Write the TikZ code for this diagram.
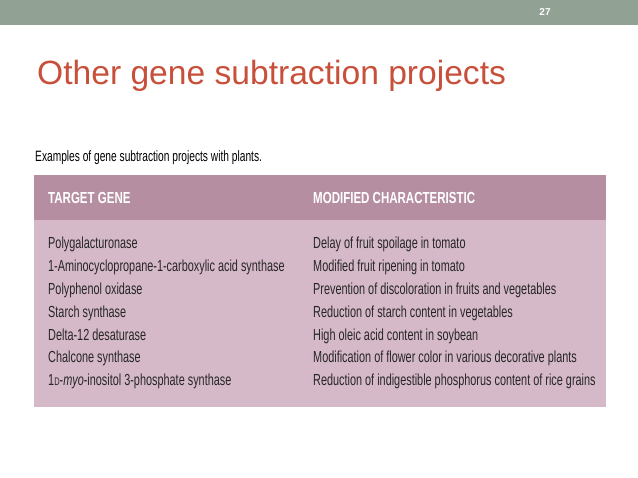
\documentclass[tikz,border=0pt]{standalone}
\usepackage{fontspec}
\setmainfont{Liberation Sans}
\newfontfamily\condfont[FakeStretch=0.68]{Liberation Sans}
\newfontfamily\headfont[FakeStretch=0.72]{Liberation Sans}
\usetikzlibrary{positioning}
\definecolor{barcol}{HTML}{91A295}
\definecolor{titlecol}{HTML}{C8503A}
\definecolor{headcol}{HTML}{B68EA1}
\definecolor{bodycol}{HTML}{D6B9C8}
\tikzset{
  cell/.style={anchor=base west,inner sep=0pt,font=\condfont\fontsize{16}{18}\selectfont,text=black!85},
  headcell/.style={anchor=base west,inner sep=0pt,font=\headfont\bfseries\fontsize{16}{18}\selectfont,text=white}
}
\begin{document}
\begin{tikzpicture}[x=1pt,y=-1pt]
\useasboundingbox (0,0) rectangle (638,478);
% top band
\fill[barcol] (0,0) rectangle (638,25);
\node[font=\bfseries\fontsize{10}{12}\selectfont,text=white] (pagenum) at (545,12) {27};
% title
\node[anchor=base west,inner sep=0pt,text=titlecol,font=\fontsize{33.6}{36}\selectfont] (title) at (37,85) {Other gene subtraction projects};
\node[anchor=base west,inner sep=0pt,font=\condfont\fontsize{15}{17}\selectfont] (caption) at (35,162) {Examples of gene subtraction projects with plants.};
% table
\fill[headcol] (34,175) rectangle (606,220);
\fill[bodycol] (34,220) rectangle (606,407);
\node[headcell] (hgene) at (48,204) {TARGET GENE};
\node[headcell] (hchar) at (313,204) {MODIFIED CHARACTERISTIC};
\foreach \i/\gene/\trait in {
0/Polygalacturonase/Delay of fruit spoilage in tomato,
1/1-Aminocyclopropane-1-carboxylic acid synthase/Modified fruit ripening in tomato,
2/Polyphenol oxidase/Prevention of discoloration in fruits and vegetables,
3/Starch synthase/Reduction of starch content in vegetables,
4/Delta-12 desaturase/High oleic acid content in soybean,
5/Chalcone synthase/Modification of flower color in various decorative plants,
6/1{\fontsize{11}{12}\selectfont D}-\textit{myo}-inositol 3-phosphate synthase/Reduction of indigestible phosphorus content of rice grains} {
\node[cell] (gene\i) at (48,249+22.8*\i) {\gene};
\node[cell] (trait\i) at (313,249+22.8*\i) {\trait};
}
\end{tikzpicture}
\end{document}
